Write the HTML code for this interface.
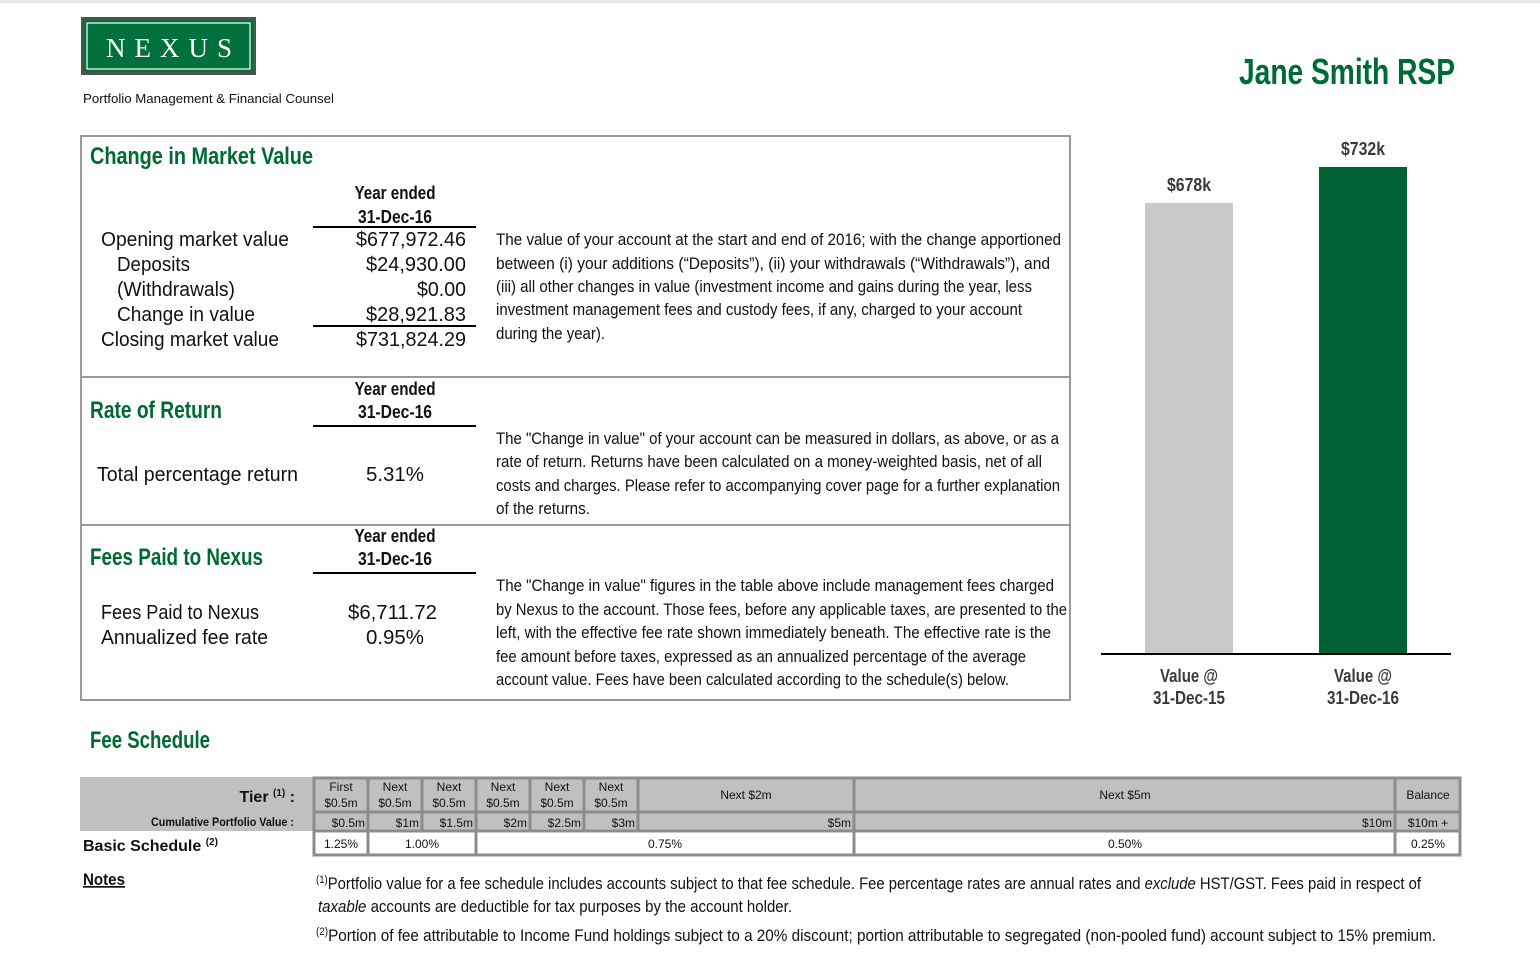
<!DOCTYPE html>
<html><head><meta charset="utf-8"><style>
html,body{margin:0;padding:0;background:#fff;width:1540px;height:957px;overflow:hidden}
svg{display:block}
.n{font-family:"Liberation Sans Narrow","Liberation Sans",sans-serif;fill:#111}
.s{font-family:"Liberation Sans",sans-serif;fill:#111}
.g{fill:#006a35;font-weight:bold}
.b{font-weight:bold}
</style></head><body>
<svg width="1540" height="957" viewBox="0 0 1540 957" xmlns="http://www.w3.org/2000/svg">
<rect x="0" y="0" width="1540" height="3" fill="#e8e8e8"/>
<rect x="81" y="17" width="175" height="58" fill="#4d5449"/>
<rect x="84" y="20" width="169" height="52" fill="#00703c"/>
<rect x="87" y="23" width="163" height="46" fill="none" stroke="#fff" stroke-width="1.2"/>
<text x="106" y="57" font-family="Liberation Serif,serif" font-size="27" fill="#fff" textLength="126" lengthAdjust="spacing">NEXUS</text>
<text x="83" y="103" class="s" font-size="13" textLength="251" lengthAdjust="spacingAndGlyphs">Portfolio Management &amp; Financial Counsel</text>
<text x="1239" y="84" class="n g" font-size="36" textLength="216" lengthAdjust="spacingAndGlyphs">Jane Smith RSP</text>

<rect x="81" y="136" width="989" height="564" fill="none" stroke="#999" stroke-width="2"/>
<line x1="80" y1="377" x2="1071" y2="377" stroke="#999" stroke-width="2"/>
<line x1="80" y1="525" x2="1071" y2="525" stroke="#999" stroke-width="2"/>

<text x="90" y="164" class="n g" font-size="24" textLength="223" lengthAdjust="spacingAndGlyphs">Change in Market Value</text>
<text x="395" y="199" class="n b" font-size="18" text-anchor="middle" textLength="81" lengthAdjust="spacingAndGlyphs">Year ended</text>
<text x="395" y="223" class="n b" font-size="18" text-anchor="middle" textLength="74" lengthAdjust="spacingAndGlyphs">31-Dec-16</text>
<line x1="313" y1="227" x2="476" y2="227" stroke="#000" stroke-width="2"/>
<g class="s" font-size="20">
<text x="101" y="246" textLength="188" lengthAdjust="spacingAndGlyphs">Opening market value</text>
<text x="117" y="271" textLength="73" lengthAdjust="spacingAndGlyphs">Deposits</text>
<text x="117" y="296" textLength="118" lengthAdjust="spacingAndGlyphs">(Withdrawals)</text>
<text x="117" y="321" textLength="138" lengthAdjust="spacingAndGlyphs">Change in value</text>
<text x="101" y="346" textLength="178" lengthAdjust="spacingAndGlyphs">Closing market value</text>
<text x="466" y="246" text-anchor="end" textLength="110" lengthAdjust="spacingAndGlyphs">$677,972.46</text>
<text x="466" y="271" text-anchor="end" textLength="100" lengthAdjust="spacingAndGlyphs">$24,930.00</text>
<text x="466" y="296" text-anchor="end" textLength="49" lengthAdjust="spacingAndGlyphs">$0.00</text>
<text x="466" y="321" text-anchor="end" textLength="100" lengthAdjust="spacingAndGlyphs">$28,921.83</text>
<text x="466" y="346" text-anchor="end" textLength="110" lengthAdjust="spacingAndGlyphs">$731,824.29</text>
</g>
<line x1="313" y1="326" x2="476" y2="326" stroke="#000" stroke-width="2"/>
<g class="n" font-size="17">
<text x="496" y="245" textLength="565" lengthAdjust="spacingAndGlyphs">The value of your account at the start and end of 2016; with the change apportioned</text>
<text x="496" y="269" textLength="554" lengthAdjust="spacingAndGlyphs">between (i) your additions (“Deposits”), (ii) your withdrawals (“Withdrawals”), and</text>
<text x="496" y="292" textLength="536" lengthAdjust="spacingAndGlyphs">(iii) all other changes in value (investment income and gains during the year, less</text>
<text x="496" y="315" textLength="526" lengthAdjust="spacingAndGlyphs">investment management fees and custody fees, if any, charged to your account</text>
<text x="496" y="339" textLength="109" lengthAdjust="spacingAndGlyphs">during the year).</text>
</g>

<text x="90" y="418" class="n g" font-size="24" textLength="132" lengthAdjust="spacingAndGlyphs">Rate of Return</text>
<text x="395" y="395" class="n b" font-size="18" text-anchor="middle" textLength="81" lengthAdjust="spacingAndGlyphs">Year ended</text>
<text x="395" y="418" class="n b" font-size="18" text-anchor="middle" textLength="74" lengthAdjust="spacingAndGlyphs">31-Dec-16</text>
<line x1="313" y1="426" x2="476" y2="426" stroke="#000" stroke-width="2"/>
<text x="97" y="481" class="s" font-size="20" textLength="201" lengthAdjust="spacingAndGlyphs">Total percentage return</text>
<text x="395" y="481" class="s" font-size="20" text-anchor="middle" textLength="58" lengthAdjust="spacingAndGlyphs">5.31%</text>
<g class="n" font-size="17">
<text x="496" y="444" textLength="563" lengthAdjust="spacingAndGlyphs">The "Change in value" of your account can be measured in dollars, as above, or as a</text>
<text x="496" y="467" textLength="546" lengthAdjust="spacingAndGlyphs">rate of return. Returns have been calculated on a money-weighted basis, net of all</text>
<text x="496" y="491" textLength="564" lengthAdjust="spacingAndGlyphs">costs and charges. Please refer to accompanying cover page for a further explanation</text>
<text x="496" y="514" textLength="94" lengthAdjust="spacingAndGlyphs">of the returns.</text>
</g>

<text x="90" y="565" class="n g" font-size="24" textLength="173" lengthAdjust="spacingAndGlyphs">Fees Paid to Nexus</text>
<text x="395" y="542" class="n b" font-size="18" text-anchor="middle" textLength="81" lengthAdjust="spacingAndGlyphs">Year ended</text>
<text x="395" y="565" class="n b" font-size="18" text-anchor="middle" textLength="74" lengthAdjust="spacingAndGlyphs">31-Dec-16</text>
<line x1="313" y1="573" x2="476" y2="573" stroke="#000" stroke-width="2"/>
<text x="101" y="619" class="s" font-size="20" textLength="158" lengthAdjust="spacingAndGlyphs">Fees Paid to Nexus</text>
<text x="101" y="644" class="s" font-size="20" textLength="167" lengthAdjust="spacingAndGlyphs">Annualized fee rate</text>
<text x="437" y="619" class="s" font-size="20" text-anchor="end" textLength="89" lengthAdjust="spacingAndGlyphs">$6,711.72</text>
<text x="395" y="644" class="s" font-size="20" text-anchor="middle" textLength="58" lengthAdjust="spacingAndGlyphs">0.95%</text>
<g class="n" font-size="17">
<text x="496" y="591" textLength="558" lengthAdjust="spacingAndGlyphs">The "Change in value" figures in the table above include management fees charged</text>
<text x="496" y="615" textLength="571" lengthAdjust="spacingAndGlyphs">by Nexus to the account. Those fees, before any applicable taxes, are presented to the</text>
<text x="496" y="638" textLength="555" lengthAdjust="spacingAndGlyphs">left, with the effective fee rate shown immediately beneath. The effective rate is the</text>
<text x="496" y="662" textLength="530" lengthAdjust="spacingAndGlyphs">fee amount before taxes, expressed as an annualized percentage of the average</text>
<text x="496" y="685" textLength="513" lengthAdjust="spacingAndGlyphs">account value. Fees have been calculated according to the schedule(s) below.</text>
</g>

<rect x="1145" y="203" width="88" height="451" fill="#c8c8c8"/>
<rect x="1319" y="167" width="88" height="487" fill="#006134"/>
<line x1="1101" y1="654" x2="1451" y2="654" stroke="#000" stroke-width="2"/>
<g class="n b" font-size="18" style="fill:#3a3a3a" text-anchor="middle">
<text x="1189" y="191" textLength="44" lengthAdjust="spacingAndGlyphs">$678k</text>
<text x="1363" y="155" textLength="44" lengthAdjust="spacingAndGlyphs">$732k</text>
<text x="1189" y="682" textLength="58" lengthAdjust="spacingAndGlyphs">Value @</text>
<text x="1189" y="704" textLength="72" lengthAdjust="spacingAndGlyphs">31-Dec-15</text>
<text x="1363" y="682" textLength="58" lengthAdjust="spacingAndGlyphs">Value @</text>
<text x="1363" y="704" textLength="72" lengthAdjust="spacingAndGlyphs">31-Dec-16</text>
</g>

<text x="90" y="748" class="n g" font-size="24" textLength="120" lengthAdjust="spacingAndGlyphs">Fee Schedule</text>
<rect x="80" y="777" width="1381" height="54" fill="#c0c0c0"/>
<rect x="314" y="831" width="1146" height="25" fill="#fff"/>
<g stroke="#8c8c8c" stroke-width="3" fill="none">
<rect x="314" y="778" width="1146" height="77"/>
<line x1="314" y1="812" x2="1460" y2="812"/>
<line x1="314" y1="831" x2="1460" y2="831"/>
<line x1="368" y1="778" x2="368" y2="855"/>
<line x1="422" y1="778" x2="422" y2="831"/>
<line x1="476" y1="778" x2="476" y2="855"/>
<line x1="530" y1="778" x2="530" y2="831"/>
<line x1="584" y1="778" x2="584" y2="831"/>
<line x1="638" y1="778" x2="638" y2="831"/>
<line x1="854" y1="778" x2="854" y2="855"/>
<line x1="1395" y1="778" x2="1395" y2="855"/>
</g>
<text x="295" y="802" class="n b" font-size="16" text-anchor="end">Tier <tspan font-size="10" dy="-6">(1)</tspan><tspan dy="6"> :</tspan></text>
<text x="294" y="826" class="n b" font-size="12" text-anchor="end" textLength="143" lengthAdjust="spacingAndGlyphs">Cumulative Portfolio Value :</text>
<text x="83" y="851" class="n b" font-size="16">Basic Schedule <tspan font-size="10" dy="-6">(2)</tspan></text>
<g class="n" font-size="12" text-anchor="middle">
<text x="341" y="791">First</text><text x="341" y="807">$0.5m</text>
<text x="395" y="791">Next</text><text x="395" y="807">$0.5m</text>
<text x="449" y="791">Next</text><text x="449" y="807">$0.5m</text>
<text x="503" y="791">Next</text><text x="503" y="807">$0.5m</text>
<text x="557" y="791">Next</text><text x="557" y="807">$0.5m</text>
<text x="611" y="791">Next</text><text x="611" y="807">$0.5m</text>
<text x="746" y="799">Next $2m</text>
<text x="1125" y="799">Next $5m</text>
<text x="1428" y="799">Balance</text>
<text x="1428" y="827">$10m +</text>
<text x="341" y="848">1.25%</text>
<text x="422" y="848">1.00%</text>
<text x="665" y="848">0.75%</text>
<text x="1125" y="848">0.50%</text>
<text x="1428" y="848">0.25%</text>
</g>
<g class="n" font-size="12" text-anchor="end">
<text x="365" y="827">$0.5m</text><text x="419" y="827">$1m</text><text x="473" y="827">$1.5m</text>
<text x="527" y="827">$2m</text><text x="581" y="827">$2.5m</text><text x="635" y="827">$3m</text>
<text x="851" y="827">$5m</text><text x="1392" y="827">$10m</text>
</g>

<text x="83" y="885" class="n b" font-size="17" text-decoration="underline" textLength="42" lengthAdjust="spacingAndGlyphs">Notes</text>
<g class="n" font-size="17">
<text x="316" y="889" textLength="1105" lengthAdjust="spacingAndGlyphs"><tspan font-size="11" dy="-6">(1)</tspan><tspan dy="6">Portfolio value for a fee schedule includes accounts subject to that fee schedule. Fee percentage rates are annual rates and </tspan><tspan font-style="italic">exclude</tspan> HST/GST. Fees paid in respect of</text>
<text x="318" y="912" textLength="474" lengthAdjust="spacingAndGlyphs"><tspan font-style="italic">taxable</tspan>  accounts are deductible for tax purposes by the account holder.</text>
<text x="316" y="941" textLength="1120" lengthAdjust="spacingAndGlyphs"><tspan font-size="11" dy="-6">(2)</tspan><tspan dy="6">Portion of fee attributable to Income Fund holdings subject to a 20% discount; portion attributable to segregated (non-pooled fund) account subject to 15% premium.</tspan></text>
</g>
</svg>
</body></html>
